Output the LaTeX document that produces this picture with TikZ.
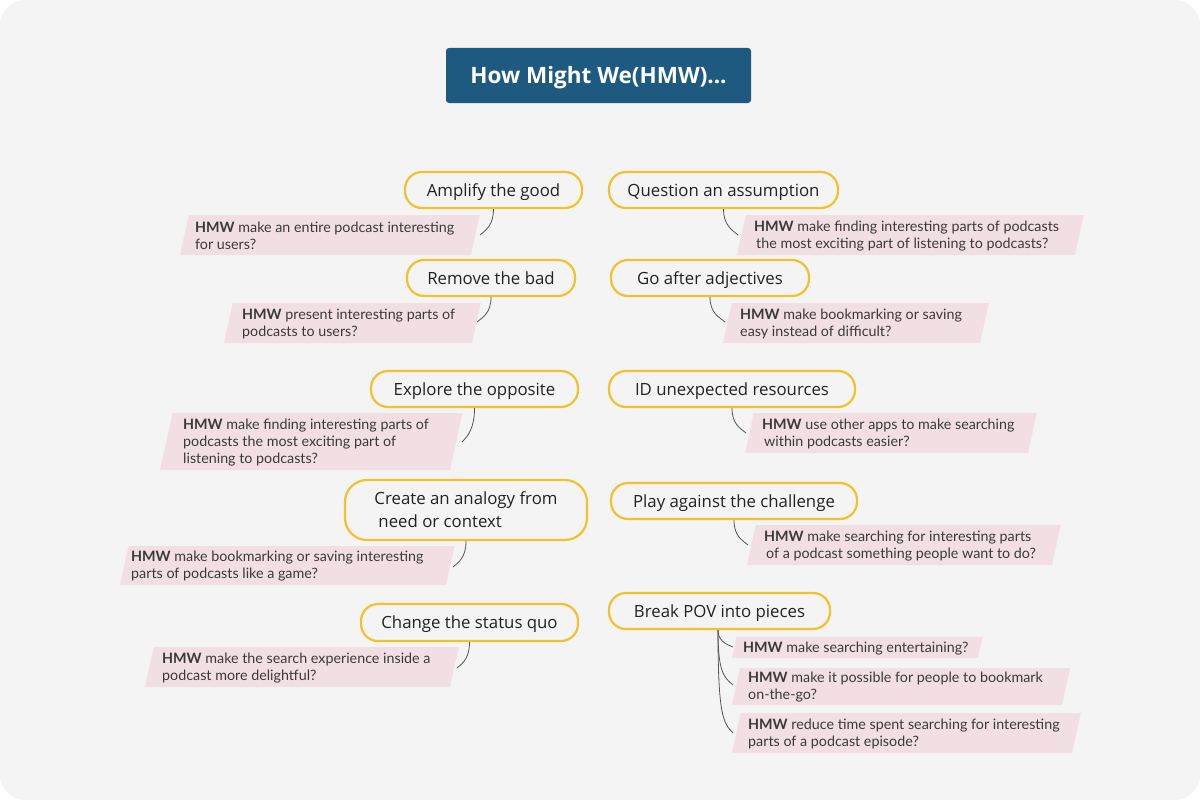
\documentclass[tikz,border=0pt]{standalone}
\usepackage{fontspec}
\setmainfont{Lato}
\newfontfamily\comic{Open Sans}
\definecolor{bg}{HTML}{F4F4F4}
\definecolor{yel}{HTML}{F2C12E}
\definecolor{pk}{HTML}{F2DFE3}
\definecolor{titlebg}{HTML}{1E5A80}
\definecolor{txta}{HTML}{222222}
\definecolor{txtb}{HTML}{3A3A3A}
\definecolor{conncol}{HTML}{555555}
\newcommand\hmwbox[7]{%
  \pgfmathsetmacro\hmwsl{0.22*#5}%
  \fill[pk] (#2,#3+#5) -- (#2+\hmwsl,#3) -- (#2+#4+\hmwsl,#3) -- (#2+#4,#3+#5) -- cycle;
  \node[hmwtext] (#1) at (#6,#3+#5/2+1) {#7};
}
\begin{document}
\begin{tikzpicture}[x=1pt,y=-1pt,
  branch/.style={draw=yel, line width=2.2pt, fill=bg, rounded corners=17pt,
    font=\comic\fontsize{16.8}{23}\selectfont, text=txta, inner sep=0pt, align=center,
    text height=13pt, text depth=1pt},
  hmwtext/.style={font=\fontsize{14.3}{17}\selectfont, text=txtb, align=left, inner sep=0pt, anchor=west},
  conn/.style={draw=conncol, line width=0.8pt}]
\useasboundingbox (0,0) rectangle (1200,800);
\fill[bg, rounded corners=25pt] (0,0) rectangle (1200,800);

% title
\node[fill=titlebg, rounded corners=3pt, minimum width=305pt, minimum height=55pt,
  text=white, font=\comic\bfseries\fontsize{22.5}{26}\selectfont, text height=16pt, text depth=0pt] (title) at (598.5,75.5) {How Might We(HMW)...};

% left branches
\node[branch, minimum width=177pt, minimum height=36pt] (amp) at (493.5,190) {Amplify the good};
\node[branch, minimum width=168pt, minimum height=36pt] (rem) at (491,278) {Remove the bad};
\node[branch, minimum width=207pt, minimum height=36pt] (exp) at (474.5,389) {Explore the opposite};
\node[branch, minimum width=242pt, minimum height=60pt, rounded corners=22pt, align=left, text height=, text depth=] (ana) at (466,510) {Create an analogy from\\\hspace*{4pt}need or context};
\node[branch, minimum width=217pt, minimum height=37pt] (chg) at (469.5,622.5) {Change the status quo};

% right branches
\node[branch, minimum width=229pt, minimum height=36pt] (que) at (723.5,190) {Question an assumption};
\node[branch, minimum width=198pt, minimum height=36pt] (adj) at (710,278) {Go after adjectives};
\node[branch, minimum width=246pt, minimum height=36pt] (res) at (732,389) {ID unexpected resources};
\node[branch, minimum width=246pt, minimum height=36pt] (pla) at (734,501) {Play against the challenge};
\node[branch, minimum width=221pt, minimum height=36pt] (pov) at (719.5,611) {Break POV into pieces};

% HMW boxes
\hmwbox{h1}{180}{215}{291}{40}{195}{\textbf{HMW} make an entire podcast interesting\\for users?}
\hmwbox{h2}{224}{303}{248}{40}{242}{\textbf{HMW} present interesting parts of\\podcasts to users?}
\hmwbox{h3}{160}{413}{290}{57}{183}{\textbf{HMW} make finding interesting parts of\\podcasts the most exciting part of\\listening to podcasts?}
\hmwbox{h4}{120}{546}{326}{39}{131}{\textbf{HMW} make bookmarking or saving interesting\\parts of podcasts like a game?}
\hmwbox{h5}{145}{647}{305}{40}{162}{\textbf{HMW} make the search experience inside a\\podcast more delightful?}
\hmwbox{h6}{737}{215}{338}{40}{754}{\textbf{HMW} make finding interesting parts of podcasts\\\hspace*{2pt}the most exciting part of listening to podcasts?}
\hmwbox{h7}{723}{303}{257}{40}{740}{\textbf{HMW} make bookmarking or saving\\easy instead of difficult?}
\hmwbox{h8}{745}{413}{283}{40}{762}{\textbf{HMW} use other apps to make searching\\\hspace*{2pt}within podcasts easier?}
\hmwbox{h9}{747}{525}{305}{40}{764}{\textbf{HMW} make searching for interesting parts\\\hspace*{2pt}of a podcast something people want to do?}
\hmwbox{h10}{732}{637}{246}{21}{743}{\textbf{HMW} make searching entertaining?}
\hmwbox{h11}{732}{668}{330}{37}{748}{\textbf{HMW} make it possible for people to bookmark\\on-the-go?}
\hmwbox{h12}{732}{713}{340}{40}{748}{\textbf{HMW} reduce time spent searching for interesting\\parts of a podcast episode?}

% connector end points
\coordinate (c1) at (480,235);
\coordinate (c2) at (477,322);
\coordinate (c3) at (462,442);
\coordinate (c4) at (453,567);
\coordinate (c5) at (457,668);
\coordinate (c6) at (738,235);
\coordinate (c7) at (725,322);
\coordinate (c8) at (746,433);
\coordinate (c9) at (748,545);
\coordinate (c10) at (733,647);
\coordinate (c11) at (733,685);
\coordinate (c12) at (733,733);

\draw[conn] (amp.south) .. controls +(0,16) and +(6,-5) .. (c1);
\draw[conn] (rem.south) .. controls +(0,16) and +(6,-5) .. (c2);
\draw[conn] (exp.south) .. controls +(0,20) and +(6,-6) .. (c3);
\draw[conn] (ana.south) .. controls +(0,16) and +(6,-5) .. (c4);
\draw[conn] (chg.south) .. controls +(0,16) and +(6,-5) .. (c5);
\draw[conn] (que.south) .. controls +(0,16) and +(-6,-5) .. (c6);
\draw[conn] (adj.south) .. controls +(0,16) and +(-6,-5) .. (c7);
\draw[conn] (res.south) .. controls +(0,16) and +(-6,-5) .. (c8);
\draw[conn] (pla.south) .. controls +(0,16) and +(-6,-5) .. (c9);
\draw[conn] ([xshift=-1.5pt]pov.south) .. controls +(0,10) and +(-8,-3) .. (c10);
\draw[conn] ([xshift=-1.5pt]pov.south) .. controls +(0,40) and +(-10,-8) .. (c11);
\draw[conn] ([xshift=-1.5pt]pov.south) .. controls +(0,85) and +(-10,-10) .. (c12);
\end{tikzpicture}
\end{document}
